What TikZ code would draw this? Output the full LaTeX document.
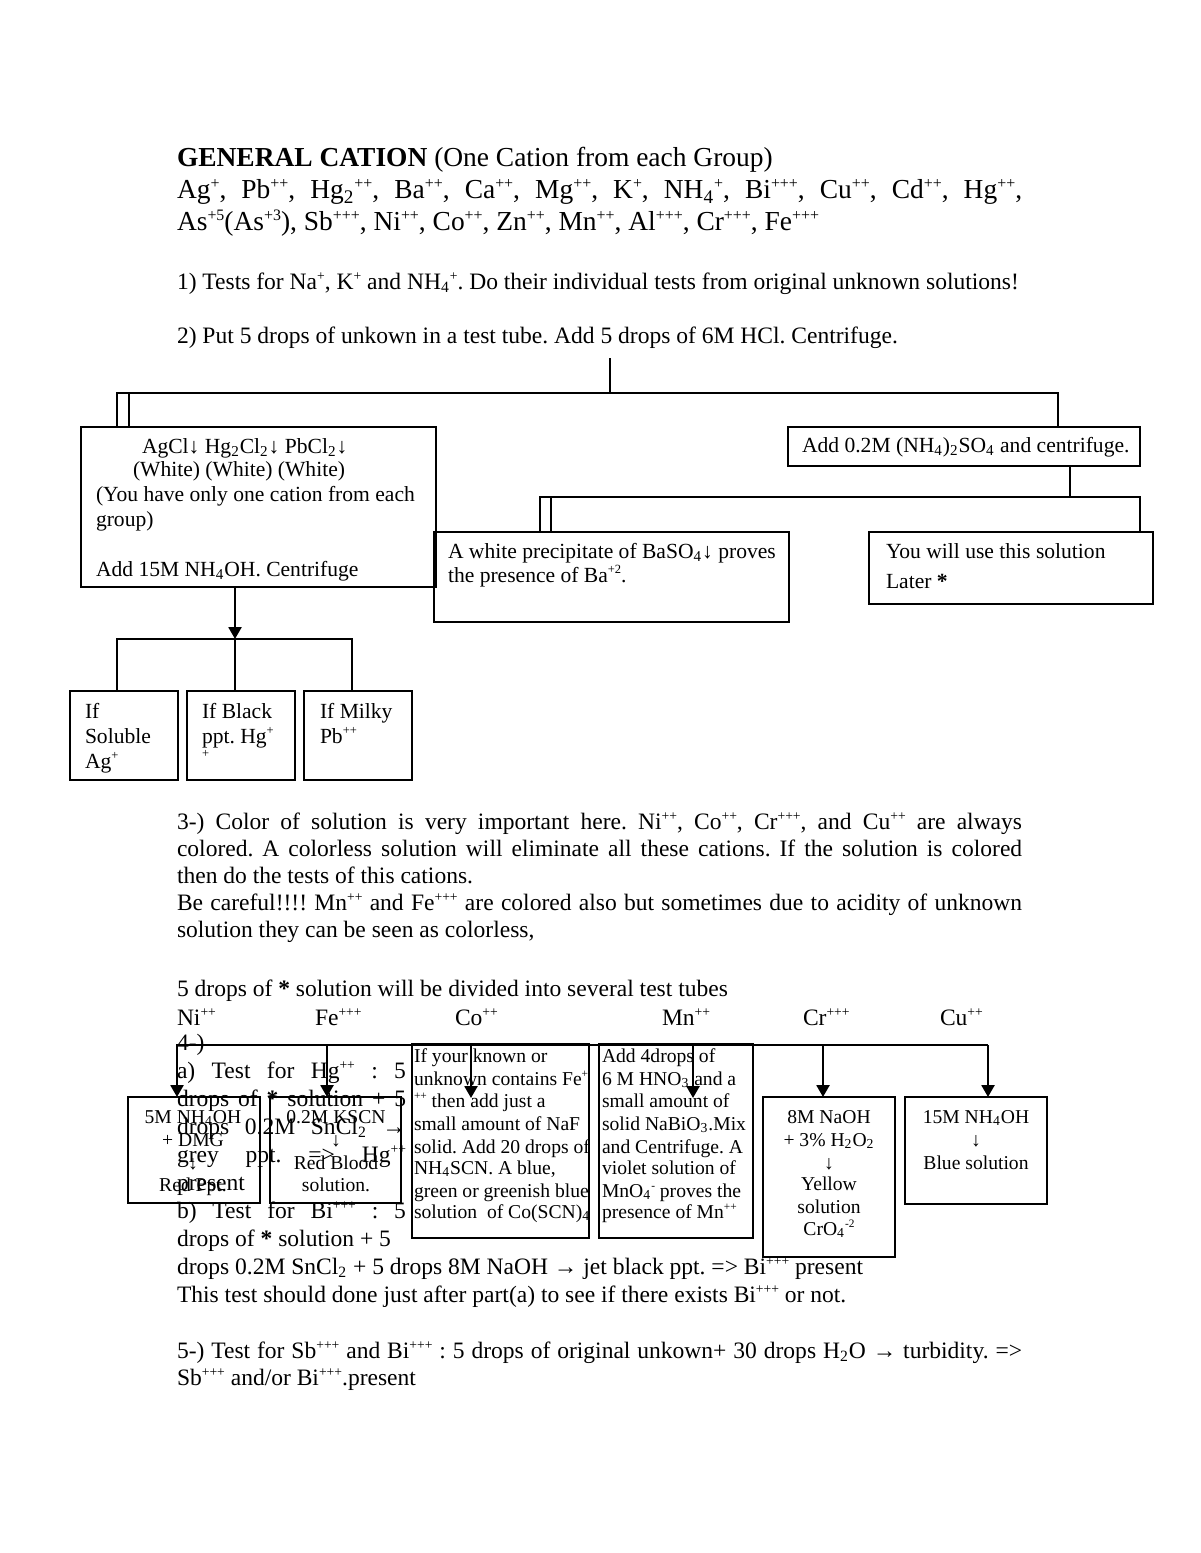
\documentclass[tikz,border=0pt]{standalone}
\usepackage{fontspec}
\usepackage{graphicx}
\setmainfont{Liberation Serif}
\usetikzlibrary{arrows.meta,fit}
\newcommand\upx[1]{\raisebox{0.38em}{\scalebox{0.58}{#1}}}
\newcommand\dnx[1]{\textsubscript{#1}}
\tikzset{
 ln/.style={anchor=base west, inner sep=0pt, outer sep=0pt},
 lc/.style={anchor=base, inner sep=0pt, outer sep=0pt},
 box/.style={draw, line width=1.3pt, inner sep=0pt, outer sep=0pt},
 wire/.style={line width=1.3pt},
 arr/.style={wire, -{Triangle[width=6.5pt,length=6pt]}},
 f14/.style={font=\fontsize{14}{16}\selectfont},
 f12/.style={font=\fontsize{12}{14}\selectfont},
 f11/.style={font=\fontsize{11}{12.5}\selectfont},
 f10/.style={font=\fontsize{10}{11.5}\selectfont},
}
\begin{document}
\frenchspacing
\begin{tikzpicture}[x=0.51pt,y=-0.51pt]
\useasboundingbox (0,0) rectangle (1200,1553);
\fill[white] (0,0) rectangle (1200,1553);

% ---------- header ----------
\node[ln,f14] (title) at (177,167) {\textbf{GENERAL CATION} (One Cation from each Group)};
\node[ln,f14] (ions1) at (177,199) {\makebox[431pt][s]{Ag\upx{+}, Pb\upx{++}, Hg\dnx{2}\upx{++}, Ba\upx{++}, Ca\upx{++}, Mg\upx{++}, K\upx{+}, NH\dnx{4}\upx{+}, Bi\upx{+++}, Cu\upx{++}, Cd\upx{++}, Hg\upx{++},}};
\node[ln,f14] (ions2) at (177,231) {As\upx{+5}(As\upx{+3}), Sb\upx{+++}, Ni\upx{++}, Co\upx{++}, Zn\upx{++}, Mn\upx{++}, Al\upx{+++}, Cr\upx{+++}, Fe\upx{+++}};
\node[ln,f12] (s1) at (177,289) {1) Tests for Na\upx{+}, K\upx{+} and NH\dnx{4}\upx{+}. Do their individual tests from original unknown solutions!};
\node[ln,f12] (s2) at (177,343) {2) Put 5 drops of unkown in a test tube. Add 5 drops of 6M HCl. Centrifuge.};

% ---------- boxes of part 2 ----------
\node[box, fit={(81,427) (436,587)}] (boxA) {};
\node[box, fit={(788,427) (1140,466)}] (boxB) {};
\node[box, fit={(434,532) (789,622)}] (boxC) {};
\node[box, fit={(869,532) (1153,604)}] (boxD) {};
\node[box, fit={(70,691) (178,780)}] (boxE) {};
\node[box, fit={(187,691) (295,780)}] (boxF) {};
\node[box, fit={(304,691) (412,780)}] (boxG) {};

\node[ln,f11] (tA1) at (142,453) {AgCl↓ Hg\dnx{2}Cl\dnx{2}↓ PbCl\dnx{2}↓};
\node[ln,f11] (tA2) at (133,476) {(White) (White) (White)};
\node[ln,f11] (tA3) at (96,501) {(You have only one cation from each};
\node[ln,f11] (tA4) at (96,526) {group)};
\node[ln,f11] (tA5) at (96,576) {Add 15M NH\dnx{4}OH. Centrifuge};
\node[ln,f11] (tB) at (802,452) {Add 0.2M (NH\dnx{4})\dnx{2}SO\dnx{4} and centrifuge.};
\node[ln,f11] (tC1) at (448,558) {A white precipitate of BaSO\dnx{4}↓ proves};
\node[ln,f11] (tC2) at (448,582) {the presence of Ba\upx{+2}.};
\node[ln,f11] (tD1) at (886,558) {You will use this solution};
\node[ln,f11] (tD2) at (886,588) {Later \textbf{*}};
\node[ln,f11] (tE1) at (85,718) {If};
\node[ln,f11] (tE2) at (85,743) {Soluble};
\node[ln,f11] (tE3) at (85,768) {Ag\upx{+}};
\node[ln,f11] (tF1) at (202,718) {If Black};
\node[ln,f11] (tF2) at (202,743) {ppt. Hg\upx{+}};
\node[ln,f11] (tF3) at (202,766) {\upx{+}};
\node[ln,f11] (tG1) at (320,718) {If Milky};
\node[ln,f11] (tG2) at (320,743) {Pb\upx{++}};

% ---------- connectors of part 2 ----------
\coordinate (hcl) at (610,358);
\coordinate (jt) at (610,393);
\coordinate (jl1) at (117,393);
\coordinate (jl2) at (129,393);
\coordinate (jr) at (1058,393);
\draw[wire] (hcl) -- (jt);
\draw[wire] (boxA.north -| jl1) -- (jl1) -- (jr) -- (boxB.north -| jr);
\draw[wire] (boxA.north -| jl2) -- (jl2);

\coordinate (jb) at (1070,497);
\coordinate (jb1) at (540,497);
\coordinate (jb2) at (551,497);
\coordinate (jb3) at (1140,497);
\draw[wire] (boxB.south -| jb) -- (jb);
\draw[wire] (boxC.north -| jb1) -- (jb1) -- (jb3) -- (boxD.north -| jb3);
\draw[wire] (boxC.north -| jb2) -- (jb2);

\coordinate (ja) at (235,639);
\coordinate (je1) at (117,639);
\coordinate (je3) at (352,639);
\draw[arr] (boxA.south -| ja) -- (ja);
\draw[wire] (boxE.north -| je1) -- (je1) -- (je3) -- (boxG.north -| je3);
\draw[wire] (ja) -- (boxF.north -| ja);

% ---------- part 3 ----------
\node[ln,f12] (p1) at (177,829) {\makebox[431pt][s]{3-) Color of solution is very important here. Ni\upx{++}, Co\upx{++}, Cr\upx{+++}, and Cu\upx{++} are always}};
\node[ln,f12] (p2) at (177,856) {\makebox[431pt][s]{colored. A colorless solution will eliminate all these cations. If the solution is colored}};
\node[ln,f12] (p3) at (177,883) {then do the tests of this cations.};
\node[ln,f12] (p4) at (177,910) {\makebox[431pt][s]{Be careful!!!! Mn\upx{++} and Fe\upx{+++} are colored also but sometimes due to acidity of unknown}};
\node[ln,f12] (p5) at (177,937) {solution they can be seen as colorless,};
\node[ln,f12] (p6) at (177,996) {5 drops of \textbf{*} solution will be divided into several test tubes};

\node[ln,f12] (lNi) at (177,1025) {Ni\upx{++}};
\node[ln,f12] (lFe) at (315,1025) {Fe\upx{+++}};
\node[ln,f12] (lCo) at (455,1025) {Co\upx{++}};
\node[ln,f12] (lMn) at (662,1025) {Mn\upx{++}};
\node[ln,f12] (lCr) at (803,1025) {Cr\upx{+++}};
\node[ln,f12] (lCu) at (940,1025) {Cu\upx{++}};

% ---------- part 4 background text ----------
\node[ln,f12] (q0) at (177,1050) {4-)};
\node[ln,f12] (q1) at (177,1078) {\makebox[116.8pt][s]{a) Test for Hg\upx{++} : 5}};
\node[ln,f12] (q2) at (177,1106) {\makebox[116.8pt][s]{drops of \textbf{*} solution + 5}};
\node[ln,f12] (q3) at (177,1134) {\makebox[116.8pt][s]{drops 0.2M SnCl\dnx{2} →}};
\node[ln,f12] (q4) at (177,1162) {\makebox[116.8pt][s]{grey ppt. => Hg\upx{++}}};
\node[ln,f12] (q5) at (177,1190) {present};
\node[ln,f12] (q6) at (177,1218) {\makebox[116.8pt][s]{b) Test for Bi\upx{+++} : 5}};
\node[ln,f12] (q7) at (177,1246) {drops of \textbf{*} solution + 5};
\node[ln,f12] (q8) at (177,1274) {drops 0.2M SnCl\dnx{2} + 5 drops 8M NaOH → jet black ppt. => Bi\upx{+++} present};
\node[ln,f12] (q9) at (177,1302) {This test should done just after part(a) to see if there exists Bi\upx{+++} or not.};

\node[ln,f12] (r1) at (177,1358) {\makebox[431pt][s]{5-) Test for Sb\upx{+++} and Bi\upx{+++} : 5 drops of original unkown+ 30 drops H\dnx{2}O → turbidity. =>}};
\node[ln,f12] (r2) at (177,1385) {Sb\upx{+++} and/or Bi\upx{+++}.present};

% ---------- part 4 boxes ----------
\node[box, fit={(128,1097) (260,1203)}] (boxNi) {};
\node[box, fit={(270,1097) (401,1203)}] (boxFe) {};
\node[box, fit={(412,1044) (589,1238)}] (boxCo) {};
\node[box, fit={(599,1044) (753,1238)}] (boxMn) {};
\node[box, fit={(763,1097) (895,1257)}] (boxCr) {};
\node[box, fit={(905,1097) (1047,1204)}] (boxCu) {};

\node[lc,f10] (n1) at (193,1123) {5M NH\dnx{4}OH};
\node[lc,f10] (n2) at (193,1146) {+ DMG};
\node[lc,f10] (n3) at (193,1169) {↓};
\node[lc,f10] (n4) at (193,1191) {Red Ppt.};
\node[lc,f10] (e1) at (336,1123) {0.2M KSCN};
\node[lc,f10] (e2) at (336,1146) {↓};
\node[lc,f10] (e3) at (336,1169) {Red Blood};
\node[lc,f10] (e4) at (336,1191) {solution.};

\node[ln,f10] (c1) at (414,1062) {If your known or};
\node[ln,f10] (c2) at (414,1085) {unknown contains Fe\upx{+}};
\node[ln,f10] (c3) at (414,1107) {\upx{++} then add just a};
\node[ln,f10] (c4) at (414,1130) {small amount of NaF};
\node[ln,f10] (c5) at (414,1153) {solid. Add 20 drops of};
\node[ln,f10] (c6) at (414,1174) {NH\dnx{4}SCN. A blue,};
\node[ln,f10] (c7) at (414,1197) {green or greenish blue};
\node[ln,f10] (c8) at (414,1218) {solution\ \ of Co(SCN)\dnx{4}};

\node[ln,f10] (m1) at (602,1062) {Add 4drops of};
\node[ln,f10] (m2) at (602,1085) {6 M HNO\dnx{3} and a};
\node[ln,f10] (m3) at (602,1107) {small amount of};
\node[ln,f10] (m4) at (602,1130) {solid NaBiO\dnx{3}.Mix};
\node[ln,f10] (m5) at (602,1153) {and Centrifuge. A};
\node[ln,f10] (m6) at (602,1174) {violet solution of};
\node[ln,f10] (m7) at (602,1197) {MnO\dnx{4}\upx{-} proves the};
\node[ln,f10] (m8) at (602,1218) {presence of Mn\upx{++}};

\node[lc,f10] (k1) at (829,1123) {8M NaOH};
\node[lc,f10] (k2) at (829,1146) {+ 3\% H\dnx{2}O\dnx{2}};
\node[lc,f10] (k3) at (829,1169) {↓};
\node[lc,f10] (k4) at (829,1190) {Yellow};
\node[lc,f10] (k5) at (829,1213) {solution};
\node[lc,f10] (k6) at (829,1235) {CrO\dnx{4}\upx{-2}};

\node[lc,f10] (u1) at (976,1123) {15M NH\dnx{4}OH};
\node[lc,f10] (u2) at (976,1146) {↓};
\node[lc,f10] (u3) at (976,1169) {Blue solution};

% ---------- part 4 connectors ----------
\coordinate (h0) at (177,1045);
\coordinate (hFe) at (327,1045);
\coordinate (hCo) at (471,1045);
\coordinate (hMn) at (693,1045);
\coordinate (hCr) at (823,1045);
\coordinate (hCu) at (988,1045);
\coordinate (eCo) at (471,1098);
\coordinate (eMn) at (693,1098);
\draw[arr] (hCu) -- (h0) -- (boxNi.north -| h0);
\draw[arr] (hFe) -- (boxFe.north -| hFe);
\draw[arr] (hCo) -- (eCo);
\draw[arr] (hMn) -- (eMn);
\draw[arr] (hCr) -- (boxCr.north -| hCr);
\draw[arr] (hCu) -- (boxCu.north -| hCu);
\end{tikzpicture}
\end{document}
